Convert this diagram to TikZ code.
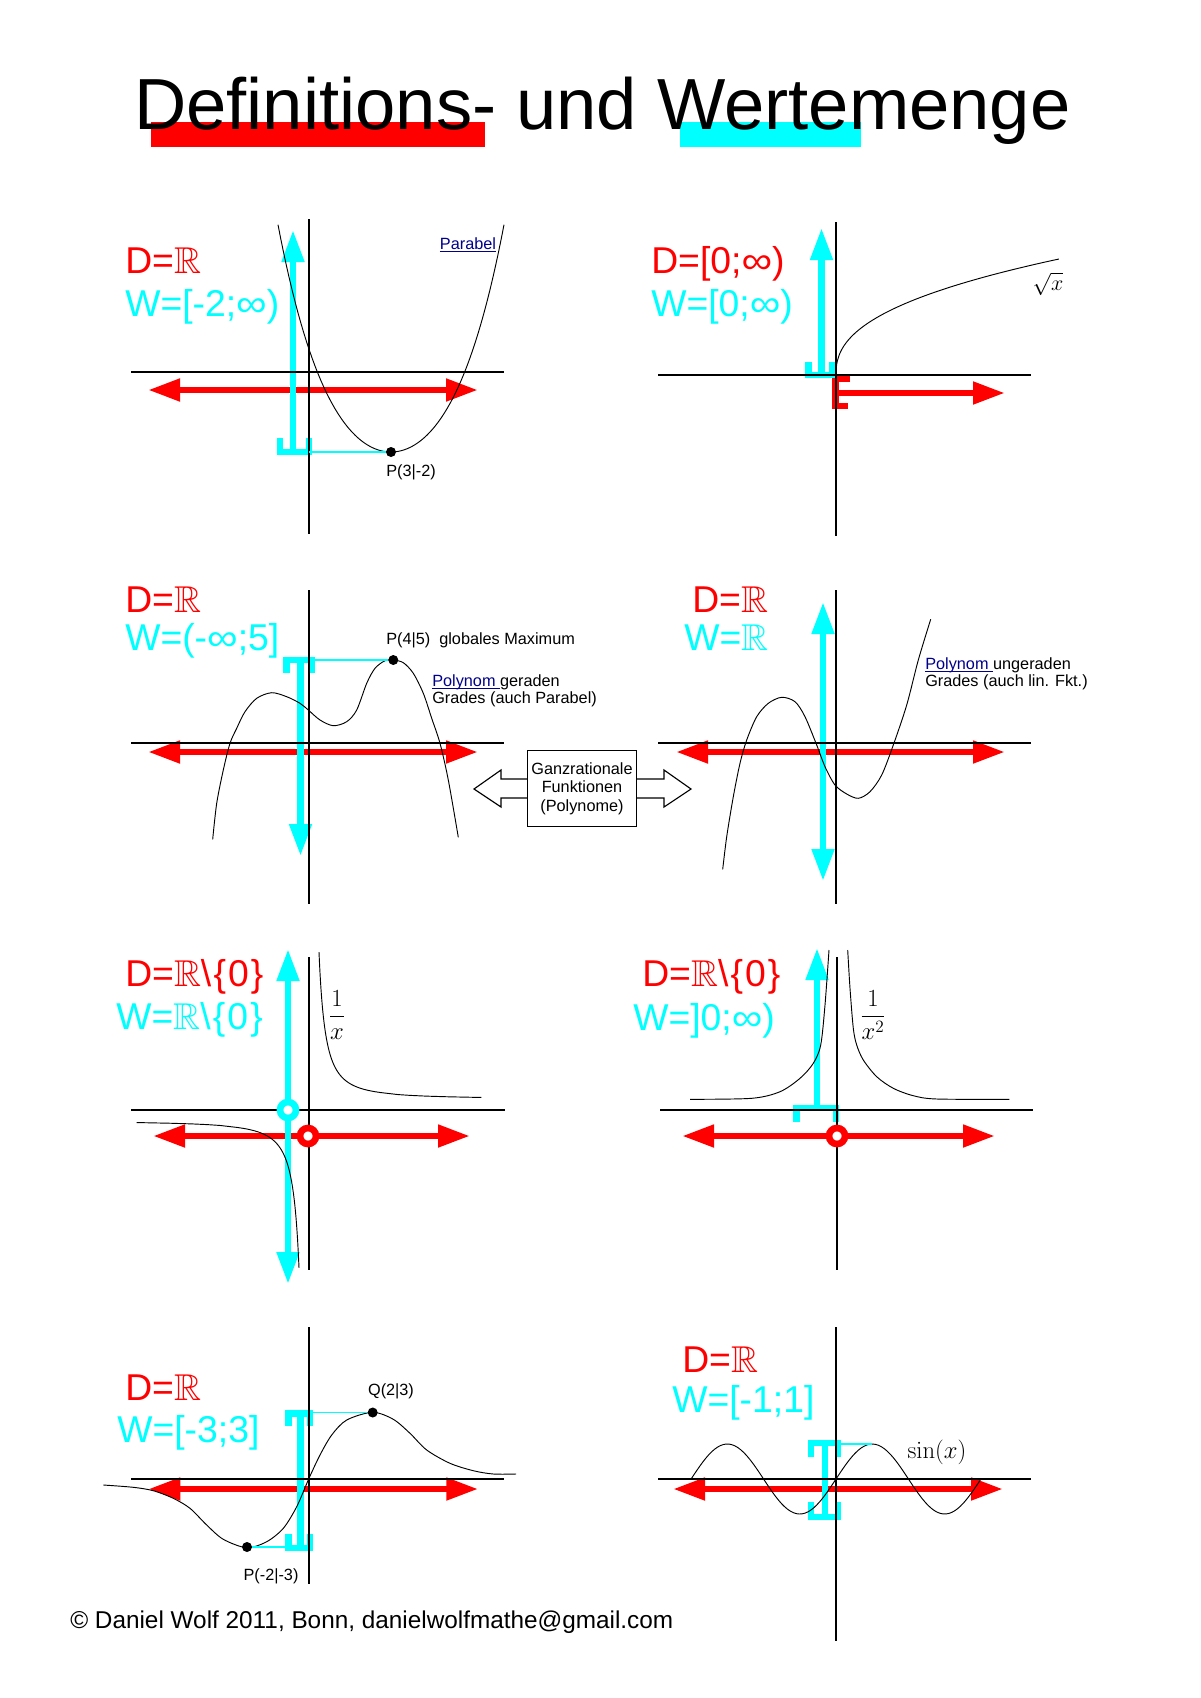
\documentclass[tikz,border=0pt]{standalone}
\usepackage{fix-cm}
\usepackage{amsmath}
\usepackage{amssymb}
\usepackage{graphicx}
\usepackage[no-math]{fontspec}
\setmainfont{Liberation Sans}
\usepackage{tikz}
\usetikzlibrary{arrows.meta}
\definecolor{wcyan}{RGB}{0,255,255}
\definecolor{dred}{RGB}{255,0,0}
\definecolor{linkblue}{RGB}{0,0,140}
\newcommand{\RR}{$\mathbb{R}$}
\newcommand{\infsym}{\scalebox{1.15}[1]{∞}}
\newcommand{\nozero}{\textbackslash\hspace{1.6pt}\{\hspace{1.6pt}0\hspace{1.6pt}\}}
\newcommand{\linktext}[1]{\textcolor{linkblue}{\underline{\smash{#1}}}}
\tikzset{
	dlabel/.style={text=dred,anchor=base west,inner sep=0pt,font=\fontsize{28}{32}\selectfont},
	wlabel/.style={text=wcyan,anchor=base west,inner sep=0pt,font=\fontsize{28}{32}\selectfont},
	small/.style={text=black,inner sep=0pt,font=\fontsize{12.2}{14}\selectfont},
	mathlabel/.style={text=black,inner sep=0pt,font=\fontsize{18.5}{22}\selectfont},
	axis/.style={black,line width=0.85pt},
	curve/.style={black,line width=0.7pt},
	redarrow/.style={dred,line width=5pt,>={Triangle[length=24pt,width=16pt]}},
	cyanarrow/.style={wcyan,line width=5pt,>={Triangle[length=24pt,width=16pt]}},
	redbar/.style={dred,line width=5pt},
	cyanbar/.style={wcyan,line width=5pt},
	cyanline/.style={wcyan,line width=1pt},
	dot/.style={circle,fill=black,inner sep=0pt,minimum size=7.5pt},
	redring/.style={circle,draw=dred,fill=white,line width=5pt,inner sep=0pt,minimum size=12pt},
	cyanring/.style={circle,draw=wcyan,fill=white,line width=5pt,inner sep=0pt,minimum size=12pt}
}
\begin{document}
\begin{tikzpicture}[x=0.75pt,y=-0.75pt]
	\useasboundingbox (0,0) rectangle (1200,1698);

	% draw title with coloured bars
	\fill[dred] (151,122) rectangle (485,147);
	\fill[wcyan] (680,122) rectangle (861,147);
	\node (title) at (134,130) [anchor=base west,inner sep=0pt,font=\fontsize{54.3}{60}\selectfont] {Definitions- und Wertemenge};

	% draw parabola
	\draw[redarrow,<->] (148,390) to (478,390);
	\draw[cyanarrow,<-] (293,230) to (293,455);
	\draw[cyanbar] (280,438) -- (280,452) -- (309,452) -- (309,438);
	\draw[axis] (309,219) to (309,534);
	\draw[axis] (131,372) to (504,372);
	\draw[curve] plot[domain=278:504,samples=80] (\x,{452-125*((\x-391)/100)^2-41.5*((\x-391)/100)^4});
	\node (PA) at (391,452) [dot] {};
	\coordinate (TA) at (309,452);
	\draw[cyanline] (TA) to (PA);
	\node (PAlabel) at (411,472) [small] {P(3|-2)};
	\node (parabel) at (468,251) [small] {\linktext{Parabel}};
	\node (D1) at (125,273) [dlabel] {D=\RR};
	\node (W1) at (125,316) [wlabel] {W=[-2;\infsym)};

	% draw square root
	\draw[redarrow,->] (836,393) to (1005,393);
	\draw[redbar] (850,378.5) -- (835.5,378.5) -- (835.5,406) -- (848,406);
	\draw[cyanarrow,<-] (821.5,228) to (821.5,375);
	\draw[cyanbar] (808.5,362) -- (808.5,375) -- (832.5,375) -- (832.5,362);
	\draw[axis] (836,222) to (836,536);
	\draw[axis] (658,375) to (1031,375);
	\draw[curve] plot[domain=0.01:1,samples=70] ({836+223*\x^2.415},{375-116*\x});
	\node (sqrtlabel) at (1048,284) [mathlabel,font=\fontsize{16.5}{20}\selectfont] {$\sqrt{x}$};
	\node (D2) at (651,273) [dlabel] {D=[0;\infsym)};
	\node (W2) at (651,316) [wlabel] {W=[0;\infsym)};

	% draw polynomial of even degree
	\draw[redarrow,<->] (148,752) to (478,752);
	\draw[cyanarrow,->] (300.5,660) to (300.5,856);
	\draw[cyanbar] (286.5,673) -- (286.5,660) -- (311.5,660) -- (311.5,673);
	\draw[axis] (309,590) to (309,904);
	\draw[axis] (131,743) to (504,743);
	\draw[curve] plot[smooth] coordinates {(212.7,839.3) (216.7,803.3) (223.3,770) (230,743.3) (236.7,728.3) (245,711.7) (256.7,698.3) (271.7,692.7) (286.7,696.7) (300,703.3) (308.3,710) (320,720) (333.3,725.7) (346.7,721.7) (356.7,710) (366.7,683.3) (375,668.3) (385,660.7) (393.3,660) (403.3,662.7) (413.3,673.3) (423.3,693.3) (431.7,718.3) (440,743.3) (448.3,780) (458.3,837.3)};
	\node (PB) at (393.3,660) [dot] {};
	\coordinate (TB) at (311.5,660);
	\draw[cyanline] (TB) to (PB);
	\node (PBlabel) at (386,640) [small,anchor=west] {P(4|5)\ \ globales Maximum};
	\node (even1) at (432,682) [small,anchor=west] {\linktext{Polynom\ }geraden};
	\node (even2) at (432,699.5) [small,anchor=west] {Grades (auch Parabel)};
	\node (D3) at (125,612) [dlabel] {D=\RR};
	\node (W3) at (125,650) [wlabel] {W=(-\infsym;5]};

	% draw polynomial of odd degree
	\draw[redarrow,<->] (676,752) to (1005,752);
	\draw[cyanarrow,<->] (823,602) to (823,881);
	\draw[axis] (836,590) to (836,904);
	\draw[axis] (658,743) to (1031,743);
	\draw[curve] plot[smooth] coordinates {(722.7,869.3) (726.7,836.7) (733.3,796.7) (740,763.3) (746.7,740) (756.7,716.7) (768.3,703.3) (781.7,697.3) (795,701.7) (805,716.7) (816.7,745) (825,766.7) (835,785) (846.7,794) (858.3,798.3) (870,791.7) (881.7,775) (893.3,745) (906.7,705) (918.3,660) (930.7,619.3)};
	\node (odd1) at (925,665) [small,anchor=west] {\linktext{Polynom\ }ungeraden};
	\node (odd2) at (925,682.5) [small,anchor=west] {Grades (auch lin. Fkt.)};
	\node (D4) at (692,612) [dlabel] {D=\RR};
	\node (W4) at (684,650) [wlabel] {W=\RR};

	% draw box between the polynomials
	\draw[black,line width=0.85pt,fill=white] (474,789) -- (501,770) -- (501,779) -- (664,779) -- (664,770) -- (691,789) -- (664,807) -- (664,798) -- (501,798) -- (501,807) -- cycle;
	\node (poly) at (582,788.5) [draw,rectangle,fill=white,line width=0.85pt,minimum width=82pt,minimum height=57pt,inner sep=0pt,align=center,font=\fontsize{12.2}{14}\selectfont] {Ganzrationale\\Funktionen\\(Polynome)};

	% draw hyperbola
	\draw[redarrow,<->] (153,1136) to (470,1136);
	\draw[cyanarrow,<->] (288,949) to (288,1284);
	\draw[axis] (309,957) to (309,1270);
	\draw[axis] (131,1110) to (505,1110);
	\draw[curve] plot[domain=0.058:1,samples=70] ({309+10/\x},{1099-147*\x^1.6});
	\draw[curve] plot[domain=0.058:1,samples=70] ({309-10/\x},{1121+147*\x^1.6});
	\node (ring1) at (308,1136) [redring] {};
	\node (ring2) at (288,1110) [cyanring] {};
	\node (frac1) at (337,1015) [mathlabel] {$\dfrac{1}{x}$};
	\node (D5) at (125,986) [dlabel] {D=\RR\nozero};
	\node (W5) at (116,1029) [wlabel] {W=\RR\nozero};

	% draw one over x squared
	\draw[redarrow,<->] (682,1136) to (995,1136);
	\draw[cyanarrow,<-] (817,948) to (817,1108);
	\draw[cyanbar] (796.5,1122) -- (796.5,1108) -- (836,1108) -- (836,1122);
	\draw[axis] (837,957) to (837,1270);
	\draw[axis] (660,1110) to (1033,1110);
	\draw[curve] plot[smooth] coordinates {(690,1099.3) (751.7,1098.3) (780,1091.7) (800,1078.3) (813.3,1063.3) (820.7,1045) (825,1005) (829,950)};
	\draw[curve] plot[smooth] coordinates {(847.7,950) (850,988.3) (853.3,1028.3) (856.7,1045) (863.3,1060) (876.7,1076.7) (893.3,1088.3) (913.3,1095.7) (936.7,1099) (1009.3,1099.3)};
	\node (ring3) at (837,1136) [redring] {};
	\node (frac2) at (873,1015) [mathlabel] {$\dfrac{1}{x^2}$};
	\node (D6) at (642,986) [dlabel] {D=\RR\nozero};
	\node (W6) at (633,1030) [wlabel] {W=]0;\infsym)};

	% draw curve with two extrema
	\draw[redarrow,<->] (148.3,1489) to (478.3,1489);
	\draw[cyanbar] (300.3,1413.7) to (300.3,1548);
	\draw[cyanbar] (288.5,1426) -- (288.5,1413.7) -- (310,1413.7) -- (310,1426);
	\draw[cyanbar] (288.5,1534) -- (288.5,1548) -- (310,1548) -- (310,1534);
	\draw[axis] (309,1327) to (309,1584);
	\draw[axis] (131,1479) to (504,1479);
	\draw[curve] plot[smooth] coordinates {(103.3,1485) (133.3,1487.3) (153.3,1490.7) (173.3,1498.3) (190,1508.3) (206.7,1525) (223.3,1539.3) (246.7,1547.7) (266.7,1541.7) (283.3,1528.3) (296.7,1506.7) (309,1478.3) (320,1455) (331.7,1435) (346.7,1420) (372.7,1412.3) (393.3,1419.3) (410,1433.3) (426.7,1450) (450,1463.3) (473.3,1470.7) (493.3,1474) (516,1474)};
	\node (Q) at (372.7,1412.5) [dot] {};
	\node (PC) at (247,1547) [dot] {};
	\coordinate (TC) at (310,1412.5);
	\coordinate (TD) at (288.5,1547);
	\draw[cyanline] (TC) to (Q);
	\draw[cyanline] (TD) to (PC);
	\node (Qlabel) at (391,1391) [small] {Q(2|3)};
	\node (PClabel) at (271,1576) [small] {P(-2|-3)};
	\node (D7) at (125,1400) [dlabel] {D=\RR};
	\node (W7) at (117,1442) [wlabel] {W=[-3;3]};

	% draw sine
	\draw[redarrow,<->] (673,1489) to (1003,1489);
	\draw[cyanbar] (825,1443) to (825,1517);
	\draw[cyanbar] (811,1457) -- (811,1443) -- (838,1443) -- (838,1457);
	\draw[cyanbar] (811,1502) -- (811,1517) -- (838,1517) -- (838,1502);
	\draw[axis] (836,1327) to (836,1641);
	\draw[axis] (658,1479) to (1031,1479);
	\draw[curve] plot[domain=691:981,samples=100] (\x,{1479-35*sin((\x-836)/144.9*360)});
	\coordinate (PD) at (872,1444);
	\coordinate (TE) at (838,1444);
	\draw[cyanline] (TE) to (PD);
	\node (sinlabel) at (937,1452) [mathlabel] {$\sin(x)$};
	\node (D8) at (682,1372) [dlabel] {D=\RR};
	\node (W8) at (672,1412) [wlabel] {W=[-1;1]};

	% draw copyright line
	\node (copy) at (70,1628) [anchor=base west,inner sep=0pt,font=\fontsize{18.25}{20}\selectfont] {© Daniel Wolf 2011, Bonn, danielwolfmathe@gmail.com};
\end{tikzpicture}
\end{document}
